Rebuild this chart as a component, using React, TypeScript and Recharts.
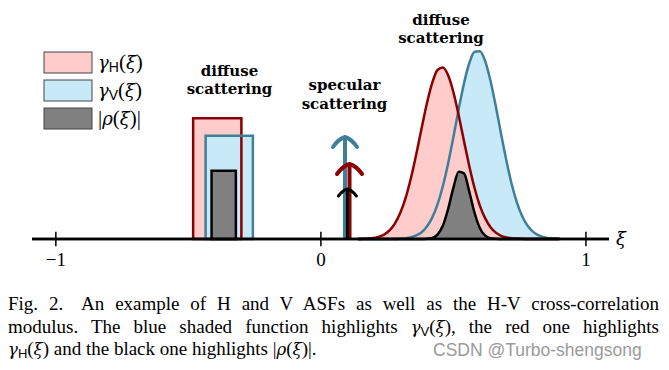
import React from "react";
import {
  ComposedChart,
  Area,
  XAxis,
  YAxis,
  ReferenceArea,
  ReferenceLine,
  ReferenceDot,
} from "recharts";

// sample positions along the xi axis for the smooth ASF lobes
const XI_GRID = [
  0.14, 0.16, 0.18, 0.2, 0.22, 0.24, 0.26, 0.28, 0.3, 0.32, 0.34, 0.36, 0.38,
  0.4, 0.42, 0.44, 0.46, 0.48, 0.5, 0.52, 0.54, 0.56, 0.58, 0.6, 0.62, 0.64,
  0.66, 0.68, 0.7, 0.72, 0.74, 0.76, 0.78, 0.8, 0.82, 0.84, 0.86, 0.88, 0.9,
];
const GAMMA_H = [
  0, 0.001, 0.002, 0.005, 0.012, 0.023, 0.044, 0.079, 0.132, 0.207, 0.306,
  0.425, 0.554, 0.679, 0.781, 0.845, 0.858, 0.819, 0.734, 0.618, 0.489, 0.364,
  0.254, 0.166, 0.103, 0.059, 0.032, 0.016, 0.008, 0.004, 0.002, 0.001, 0, 0,
  0, 0, 0, 0, 0,
];
const GAMMA_V = [
  0, 0, 0, 0, 0, 0, 0, 0, 0.002, 0.004, 0.009, 0.018, 0.034, 0.063, 0.107,
  0.173, 0.264, 0.378, 0.51, 0.65, 0.779, 0.88, 0.936, 0.939, 0.888, 0.79,
  0.663, 0.524, 0.391, 0.274, 0.181, 0.113, 0.066, 0.037, 0.019, 0.009, 0.004,
  0.002, 0.001,
];
const RHO = [
  0, 0, 0, 0, 0, 0, 0, 0, 0, 0, 0, 0, 0, 0.001, 0.005, 0.022, 0.066, 0.15,
  0.257, 0.336, 0.328, 0.236, 0.13, 0.054, 0.017, 0.004, 0.001, 0, 0, 0, 0, 0,
  0, 0, 0, 0, 0, 0, 0,
];

// rectangular (uniform) part: H, V, |rho|
const RECT_X1 = [-0.482, -0.435, -0.4125];
const RECT_X2 = [-0.3, -0.2566, -0.3208];
const RECT_TOP = [0.6035, 0.5165, 0.3415];

// specular deltas: V, H, |rho|
const SPEC_XI = [0.091, 0.108, 0.1];
const SPEC_TOP = [0.51, 0.375, 0.25];

const X_TICKS = [-1, 0, 1];

const RED = "#8b0000";
const PINK = "#ffcccc";
const BLUE = "#3f7f99";
const LIGHT_BLUE = "#c7e9f8";
const GRAY = "#808080";

const rows = XI_GRID.map((xi, i) => ({
  xi,
  h: GAMMA_H[i],
  v: GAMMA_V[i],
  r: RHO[i],
}));

const arrowHead =
  (color: string, w: number, h: number, sw: number) =>
  (props: any) => {
    const { cx, cy } = props;
    const d = `M${cx - w},${cy + h} Q${cx - w * 0.55},${cy + h * 0.2} ${cx},${cy} Q${cx + w * 0.55},${cy + h * 0.2} ${cx + w},${cy + h}`;
    return (
      <path
        d={d}
        fill="none"
        stroke={color}
        strokeWidth={sw}
        strokeLinecap="round"
        strokeLinejoin="round"
      />
    );
  };

const SERIF = "'Liberation Serif', serif";
const GREEK = "'DejaVu Serif', serif";
const BOLD = "'DejaVu Serif', serif";

function MathLabel({ x, y, sub, rho }: { x: number; y: number; sub?: string; rho?: boolean }) {
  if (rho) {
    return (
      <text x={x} y={y} fontFamily={SERIF} fontSize={21} fill="#000">
        <tspan>|</tspan>
        <tspan fontFamily={GREEK} fontStyle="italic" fontSize={18}>ρ</tspan>
        <tspan>(</tspan>
        <tspan fontFamily={GREEK} fontStyle="italic" fontSize={18}>ξ</tspan>
        <tspan>)|</tspan>
      </text>
    );
  }
  return (
    <text x={x} y={y} fontFamily={SERIF} fontSize={21} fill="#000">
      <tspan fontFamily={GREEK} fontStyle="italic" fontSize={18}>γ</tspan>
      <tspan fontFamily="'Liberation Sans', sans-serif" fontSize={14} dy={3}>
        {sub}
      </tspan>
      <tspan dy={-3}>(</tspan>
      <tspan fontFamily={GREEK} fontStyle="italic" fontSize={18}>ξ</tspan>
      <tspan>)</tspan>
    </text>
  );
}

// two-line bold annotation, one text element
function Note({ x, y, lines, gap }: { x: number; y: number; lines: string[]; gap: number }) {
  return (
    <text
      x={x}
      y={y}
      fontFamily={BOLD}
      fontWeight="bold"
      fontSize={15}
      textAnchor="middle"
      fill="#000"
    >
      <tspan x={x}>{lines[0]}</tspan>
      <tspan x={x} dy={gap}>
        {lines[1]}
      </tspan>
    </text>
  );
}

const greek: React.CSSProperties = {
  fontFamily: GREEK,
  fontStyle: "italic",
  fontSize: 16.5,
};

function InlineGamma({ sub }: { sub: string }) {
  return (
    <span>
      <span style={greek}>γ</span>
      <span
        style={{
          fontFamily: "'Liberation Sans', sans-serif",
          fontSize: 13,
          position: "relative",
          top: 3,
        }}
      >
        {sub}
      </span>
      (<span style={greek}>ξ</span>)
    </span>
  );
}

const lineStyle = (baseline: number, justify: boolean): React.CSSProperties => ({
  position: "absolute",
  left: 8,
  width: 651,
  top: baseline - 17.66,
  lineHeight: "22.5px",
  height: 22.5,
  fontFamily: SERIF,
  fontSize: 19,
  whiteSpace: "nowrap",
  textAlign: justify ? "justify" : "left",
  textAlignLast: justify ? "justify" : "left",
  color: "#000",
});

export default function App() {
  return (
    <div
      style={{
        position: "absolute",
        left: 0,
        top: 0,
        width: 669,
        height: 370,
        background: "#fff",
        overflow: "hidden",
      }}
    >
      <ComposedChart
        width={669}
        height={280}
        data={rows}
        margin={{ top: 19, right: 60, left: 32, bottom: 11 }}
      >
        <XAxis
          dataKey="xi"
          type="number"
          domain={[-1.09, 1.087]}
          allowDataOverflow
          ticks={X_TICKS}
          tickFormatter={(v) => (v < 0 ? `\u2212${Math.abs(v)}` : `${v}`)}
          tick={{ fontFamily: SERIF, fontSize: 19, fill: "#000" }}
          tickLine={false}
          tickSize={0}
          tickMargin={13.5}
          height={30}
          axisLine={{ stroke: "#000", strokeWidth: 2.5 }}
        />
        <YAxis hide domain={[0, 1.1]} />

        {/* uniform parts */}
        <ReferenceArea x1={RECT_X1[0]} x2={RECT_X2[0]} y1={0} y2={RECT_TOP[0]} fill={PINK} fillOpacity={1} stroke="none" />
        <ReferenceArea x1={RECT_X1[1]} x2={RECT_X2[1]} y1={0} y2={RECT_TOP[1]} fill={LIGHT_BLUE} fillOpacity={1} stroke="none" />
        <ReferenceArea x1={RECT_X1[0]} x2={RECT_X2[0]} y1={0} y2={RECT_TOP[0]} fill="none" fillOpacity={0} stroke={RED} strokeWidth={2.5} />
        <ReferenceArea x1={RECT_X1[1]} x2={RECT_X2[1]} y1={0} y2={RECT_TOP[1]} fill="none" fillOpacity={0} stroke={BLUE} strokeWidth={2.5} />
        <ReferenceArea x1={RECT_X1[2]} x2={RECT_X2[2]} y1={0} y2={RECT_TOP[2]} fill={GRAY} fillOpacity={1} stroke="#000" strokeWidth={2.5} />

        {/* gaussian lobes */}
        <Area dataKey="v" type="monotone" fill={LIGHT_BLUE} fillOpacity={1} stroke="none" isAnimationActive={false} dot={false} activeDot={false} />
        <Area dataKey="h" type="monotone" fill={PINK} fillOpacity={1} stroke="none" isAnimationActive={false} dot={false} activeDot={false} />
        <Area dataKey="v" type="monotone" fill="none" fillOpacity={0} stroke={BLUE} strokeWidth={2.5} isAnimationActive={false} dot={false} activeDot={false} />
        <Area dataKey="h" type="monotone" fill="none" fillOpacity={0} stroke={RED} strokeWidth={2.5} isAnimationActive={false} dot={false} activeDot={false} />
        <Area dataKey="r" type="monotone" fill={GRAY} fillOpacity={1} stroke="#000" strokeWidth={2.5} isAnimationActive={false} dot={false} activeDot={false} />

        {/* specular deltas */}
        <ReferenceLine segment={[{ x: SPEC_XI[0], y: 0 }, { x: SPEC_XI[0], y: SPEC_TOP[0] }]} stroke={BLUE} strokeWidth={4} ifOverflow="visible" />
        <ReferenceDot x={SPEC_XI[0]} y={SPEC_TOP[0]} ifOverflow="visible" shape={arrowHead(BLUE, 12, 10, 4)} />
        <ReferenceLine segment={[{ x: SPEC_XI[1], y: 0 }, { x: SPEC_XI[1], y: SPEC_TOP[1] }]} stroke={RED} strokeWidth={4} ifOverflow="visible" />
        <ReferenceDot x={SPEC_XI[1]} y={SPEC_TOP[1]} ifOverflow="visible" shape={arrowHead(RED, 12.5, 10, 4)} />
        <ReferenceLine segment={[{ x: SPEC_XI[2], y: 0 }, { x: SPEC_XI[2], y: SPEC_TOP[2] }]} stroke="#000" strokeWidth={3} ifOverflow="visible" />
        <ReferenceDot x={SPEC_XI[2]} y={SPEC_TOP[2]} ifOverflow="visible" shape={arrowHead("#000", 9, 7, 3)} />

        {/* axis line and crossing ticks */}
        <ReferenceLine y={0} stroke="#000" strokeWidth={2.5} ifOverflow="visible" />
        {X_TICKS.map((t) => (
          <ReferenceLine
            key={t}
            segment={[{ x: t, y: -0.036 }, { x: t, y: 0.036 }]}
            stroke="#000"
            strokeWidth={1.5}
            ifOverflow="visible"
          />
        ))}
      </ComposedChart>

      <svg
        width={669}
        height={280}
        style={{ position: "absolute", left: 0, top: 0, pointerEvents: "none" }}
      >
        <rect x={44} y={52} width={48} height={21} fill={PINK} stroke="#444" strokeWidth={1} />
        <rect x={44} y={80} width={48} height={21} fill={LIGHT_BLUE} stroke="#444" strokeWidth={1} />
        <rect x={44} y={108} width={48} height={21} fill={GRAY} stroke="#444" strokeWidth={1} />
        <MathLabel x={98} y={69} sub="H" />
        <MathLabel x={98} y={97} sub="V" />
        <MathLabel x={98} y={125} rho />

        <Note x={229.5} y={76} gap={17.5} lines={["diffuse", "scattering"]} />
        <Note x={344.5} y={90} gap={19} lines={["specular", "scattering"]} />
        <Note x={441} y={25} gap={17.5} lines={["diffuse", "scattering"]} />

        <text x={616} y={245} fontFamily={GREEK} fontStyle="italic" fontSize={18} fill="#000">
          ξ
        </text>
      </svg>

      <div style={lineStyle(311, true)}>
        Fig. 2.<span style={{ display: "inline-block", width: 8 }} /> An example of H and V ASFs as
        well as the H-V cross-correlation
      </div>
      <div style={lineStyle(333.5, true)}>
        modulus. The blue shaded function highlights <InlineGamma sub="V" />, the red one
        highlights
      </div>
      <div style={lineStyle(356, false)}>
        <InlineGamma sub="H" /> and the black one highlights |<span style={greek}>ρ</span>(
        <span style={greek}>ξ</span>)|.
      </div>
      <div
        style={{
          position: "absolute",
          left: 433,
          top: 356 - 16,
          fontFamily: "'Liberation Sans', sans-serif",
          fontSize: 17.5,
          lineHeight: "20px",
          color: "#9a9a9a",
          whiteSpace: "nowrap",
        }}
      >
        CSDN @Turbo-shengsong
      </div>
    </div>
  );
}
